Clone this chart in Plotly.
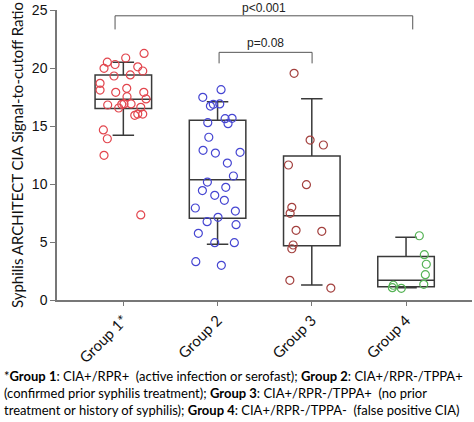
import plotly.graph_objects as go

# ---------------- data ----------------
groups = ["Group 1*", "Group 2", "Group 3", "Group 4"]
group_pos = [1, 2, 3, 4]

# box statistics
q1 = [16.5, 7.04, 4.68, 1.15]
median = [17.3, 10.37, 7.27, 1.70]
q3 = [19.4, 15.5, 12.41, 3.74]
lower_fence = [14.2, 4.8, 1.29, 1.06]
upper_fence = [20.5, 17.1, 17.35, 5.4]

# individual values and their horizontal jitter (category units)
g1_vals = [20.5, 19.97, 20.3, 20.86, 21.26, 20.1, 19.74, 19.31, 19.4, 18.68,
           18.1, 17.9, 18.25, 17.9, 17.53, 17.33, 16.81, 16.55, 16.9, 16.87,
           16.9, 16.61, 15.92, 16.03, 16.03, 14.66, 13.9, 12.47, 7.33]
g1_jit = [-0.17, -0.205, -0.088, 0.025, 0.22, 0.153, 0.206, -0.099, 0.074, -0.247,
          -0.247, -0.081, 0.036, 0.217, 0.039, 0.241, -0.166, -0.049, 0.007, -0.017,
          0.082, 0.185, 0.121, 0.153, 0.206, -0.212, -0.17, -0.205, 0.185]

g2_vals = [18.13, 17.47, 16.72, 16.87, 16.9, 15.63, 15.66, 15.2, 15.29, 14.03,
           12.9, 12.67, 12.73, 11.8, 10.69, 10.17, 9.43, 9.71, 9.02, 8.59,
           7.93, 7.67, 7.13, 6.75, 6.49, 5.75, 4.94, 4.94, 3.30, 2.99]
g2_jit = [0.037, -0.157, -0.076, -0.045, 0.023, 0.08, 0.154, 0.111, -0.104, -0.093,
          -0.154, -0.023, 0.239, 0.104, 0.168, -0.108, -0.161, 0.087, -0.03, 0.072,
          -0.236, 0.189, 0.005, -0.111, 0.196, -0.204, -0.03, 0.178, -0.231, 0.04]

g3_vals = [19.54, 13.79, 13.36, 11.64, 9.94, 7.99, 7.47, 6.01, 5.92, 4.74,
           4.42, 1.70, 1.03]
g3_jit = [-0.188, -0.018, 0.123, -0.248, -0.057, -0.212, -0.23, -0.167, 0.106, -0.198,
          -0.212, -0.233, 0.202]

g4_vals = [5.54, 3.91, 3.08, 2.18, 1.35, 1.27, 1.06, 1.01]
g4_jit = [0.141, 0.194, 0.215, 0.205, 0.188, -0.135, -0.145, -0.05]

y_ticks = [0, 5, 10, 15, 20, 25]

# significance brackets: (left group pos, right group pos, label)
brackets = [(0.912, 4.071, "p<0.001"), (2.016, 3.003, "p=0.08")]

colors = ["#e2464e", "#4646d2", "#a3403e", "#56b356"]

caption = ("*<b>Group 1</b>: CIA+/RPR+  (active infection or serofast); <b>Group 2</b>: CIA+/RPR-/TPPA+<br>"
           "(confirmed prior syphilis treatment); <b>Group 3</b>: CIA+/RPR-/TPPA+  (no prior<br>"
           "treatment or history of syphilis); <b>Group 4</b>: CIA+/RPR-/TPPA-  (false positive CIA)")

# ---------------- figure ----------------
fig = go.Figure()

for i in range(4):
    fig.add_trace(go.Box(
        x=[group_pos[i]], q1=[q1[i]], median=[median[i]], q3=[q3[i]],
        lowerfence=[lower_fence[i]], upperfence=[upper_fence[i]],
        width=0.6, whiskerwidth=0.38, boxpoints=False,
        fillcolor="rgba(0,0,0,0)", line=dict(color="#3a3a3a", width=1.5),
        showlegend=False, hoverinfo="skip"))

vals = [g1_vals, g2_vals, g3_vals, g4_vals]
jits = [g1_jit, g2_jit, g3_jit, g4_jit]
for i in range(4):
    fig.add_trace(go.Scatter(
        x=[group_pos[i] + j for j in jits[i]], y=vals[i], mode="markers",
        marker=dict(symbol="circle-open", size=8, color=colors[i],
                    line=dict(width=1.2, color=colors[i])),
        showlegend=False, cliponaxis=False))

# brackets (paper y coordinates so they may rise above the axis top)
bracket_y = [(0.980, 0.933, 1.008), (0.854, 0.816, 0.885)]
for (x0, x1, lab), (yh, yl, yt) in zip(brackets, bracket_y):
    fig.add_shape(type="path", xref="x", yref="paper",
                  path=f"M {x0} {yl} L {x0} {yh} L {x1} {yh} L {x1} {yl}",
                  line=dict(color="#555555", width=1))
    fig.add_annotation(x=(x0 + x1) / 2, y=yt, xref="x", yref="paper", text=lab,
                       showarrow=False, font=dict(family="Liberation Sans, Arial", size=12, color="#222"),
                       xanchor="center", yanchor="middle")

fig.add_annotation(x=-0.1325, y=-0.228, xref="paper", yref="paper", text=caption,
                   showarrow=False, align="left", xanchor="left", yanchor="top",
                   font=dict(family="Lato", size=13, color="#000"))

fig.update_layout(
    width=474, height=422,
    margin=dict(l=57, r=2, t=10, b=122),
    paper_bgcolor="white", plot_bgcolor="white",
    xaxis=dict(range=[0.296, 4.70], tickmode="array", tickvals=group_pos, ticktext=groups,
               tickangle=-45, showline=True, linecolor="#777777", linewidth=1.5,
               ticks="outside", ticklen=4, tickcolor="#777777", showgrid=False, zeroline=False,
               tickfont=dict(family="Lato", size=15, color="#111")),
    yaxis=dict(range=[0, 25], tickmode="array", tickvals=y_ticks, showline=True,
               linecolor="#777777", linewidth=1.5, ticks="outside", ticklen=5,
               tickcolor="#777777", showgrid=False, zeroline=False,
               tickfont=dict(family="Liberation Sans, Arial", size=14, color="#111"),
               title=dict(text="Syphilis ARCHITECT CIA Signal-to-cutoff Ratio",
                          font=dict(family="Lato", size=15, color="#111"), standoff=5)),
)

fig.write_html("out.html")
